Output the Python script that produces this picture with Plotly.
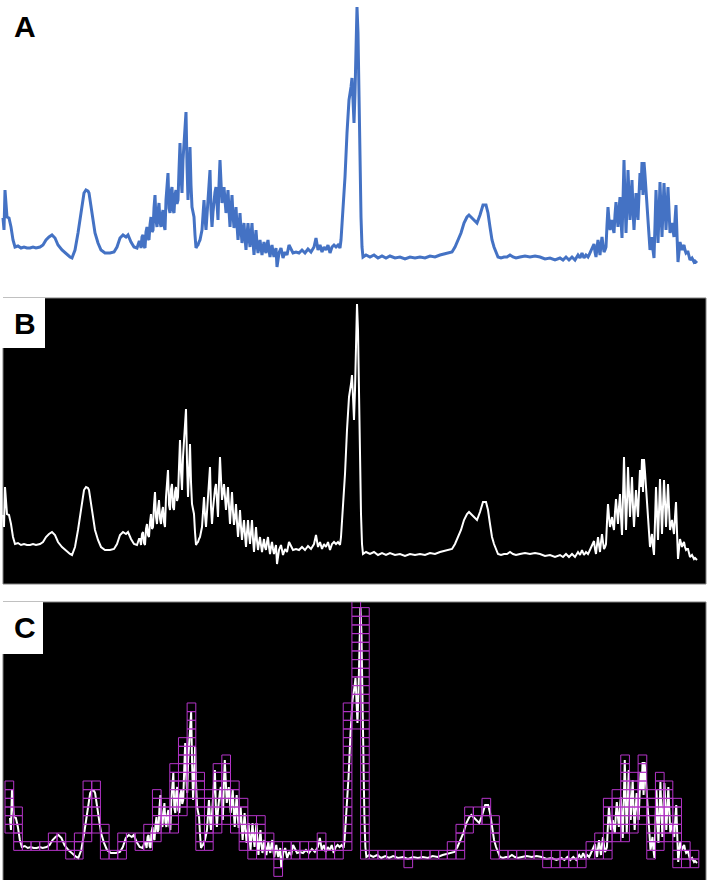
import numpy as np
import plotly.graph_objects as go

# ---------------- data (signal) ----------------
# sample positions and intensities, in four stretches
pos_start = [3, 4, 5, 6, 7, 9, 11, 13, 15, 18, 21, 24, 27, 30, 33, 36, 40, 43, 46, 49,
             52, 55, 58, 62, 66, 70, 72, 75, 78, 81, 84, 86, 88, 89, 91, 93, 95, 98, 101, 105,
             110, 114, 117, 120, 123, 126, 128, 131, 134, 137, 139]
val_start = [52, 40, 80, 70, 53, 52, 43, 30, 23, 24, 22, 23, 22, 22, 23, 22, 23, 25, 30, 33,
             35, 32, 25, 20, 16, 13, 12, 20, 37, 57, 77, 80, 79, 77, 63, 50, 37, 27, 20, 17,
             17, 18, 23, 32, 35, 33, 35, 28, 23, 22, 28]

pos_noisy1 = list(range(140, 280))
val_noisy1 = [28, 22, 33, 35, 24, 22, 38, 43, 32, 30,
              45, 53, 38, 40, 62, 75, 50, 43, 58, 67,
              48, 43, 55, 60, 45, 40, 70, 90, 97, 62,
              57, 78, 83, 60, 57, 75, 80, 66, 70, 100,
              127, 95, 77, 110, 123, 140, 158, 105, 70, 95,
              123, 85, 63, 58, 53, 35, 22, 24, 25, 28,
              30, 35, 40, 55, 70, 52, 40, 55, 70, 85,
              100, 60, 43, 58, 70, 78, 83, 60, 50, 85,
              110, 88, 67, 75, 83, 70, 57, 68, 80, 60,
              43, 60, 75, 55, 42, 50, 63, 45, 30, 42,
              57, 40, 27, 38, 47, 32, 20, 35, 47, 33,
              23, 35, 47, 28, 15, 28, 40, 26, 17, 24,
              30, 22, 15, 22, 28, 20, 17, 25, 30, 20,
              13, 20, 25, 18, 13, 18, 22, 3, 12, 17]

pos_middle = [281, 283, 285, 287, 289, 291, 293, 296, 299, 302,
              305, 308, 311, 314, 316, 318, 320, 322, 324, 326,
              328, 330, 332, 334, 336, 338, 340, 341, 343, 345,
              347, 349, 351, 352, 353, 354, 355, 356, 357, 358,
              359, 360, 361, 362, 363, 366, 370, 374, 378, 382,
              386, 390, 395, 400, 405, 410, 415, 420, 425, 430,
              435, 440, 445, 448, 452, 455, 458, 461, 464, 467,
              469, 471, 474, 477, 480, 483, 486, 488, 490, 492,
              494, 496, 498, 501, 504, 507, 510, 513, 516, 520,
              525, 530, 535, 540, 545, 550, 555, 560, 563, 566,
              569, 572, 575, 578, 580, 582, 584, 586]
val_middle = [22, 12, 18, 15, 25, 20, 17, 18, 17, 20,
              17, 21, 18, 23, 32, 20, 25, 18, 23, 20,
              25, 17, 23, 25, 23, 25, 22, 30, 57, 93,
              137, 170, 183, 192, 170, 147, 177, 237, 263, 237,
              170, 103, 53, 23, 13, 15, 13, 15, 12, 14,
              12, 14, 12, 13, 11, 13, 12, 13, 12, 14,
              13, 15, 16, 17, 18, 23, 30, 37, 47, 53,
              55, 53, 50, 47, 55, 65, 65, 57, 43, 30,
              23, 17, 13, 12, 13, 13, 15, 13, 12, 13,
              14, 13, 14, 13, 11, 12, 10, 12, 10, 13,
              10, 13, 10, 15, 12, 17, 12, 15]

pos_noisy2 = list(range(588, 698))
val_noisy2 = [13, 15, 17, 20, 22, 24, 26, 18, 13, 22,
              30, 22, 15, 25, 33, 25, 18, 20, 23, 45,
              63, 50, 40, 45, 50, 42, 37, 55, 68, 55,
              43, 60, 73, 50, 32, 70, 110, 70, 37, 65,
              100, 75, 50, 70, 90, 60, 40, 60, 77, 62,
              50, 75, 97, 80, 108, 75, 108, 95, 77, 62,
              50, 35, 20, 28, 33, 20, 12, 45, 80, 55,
              27, 55, 88, 60, 33, 60, 87, 65, 40, 60,
              83, 60, 37, 42, 47, 40, 33, 50, 65, 35,
              8, 18, 28, 24, 20, 23, 25, 20, 17, 18,
              18, 14, 10, 11, 12, 10, 8, 9, 8, 7]

position = pos_start + pos_noisy1 + pos_middle + pos_noisy2
intensity = val_start + val_noisy1 + val_middle + val_noisy2

panel_labels = ["A", "B", "C"]

# ---------------- geometry helpers ----------------
W, H = 708, 880


def px(x):
    return x / W


def py(y):
    return 1 - y / H


fig = go.Figure()

# Panel A: blue line on white
fig.add_trace(go.Scatter(x=position, y=intensity, mode="lines",
                         line=dict(color="#4472C4", width=3),
                         xaxis="x", yaxis="y", hoverinfo="skip", showlegend=False))
# Panel B: white line on black
fig.add_trace(go.Scatter(x=position, y=intensity, mode="lines",
                         line=dict(color="white", width=2),
                         xaxis="x2", yaxis="y2", hoverinfo="skip", showlegend=False))
# Panel C: white line on black + box grid
fig.add_trace(go.Scatter(x=position, y=intensity, mode="lines",
                         line=dict(color="white", width=2),
                         xaxis="x3", yaxis="y3", hoverinfo="skip", showlegend=False))

# box-counting cover of the curve in panel C
bw, bh = 8.76, 8.67
gx0, gy0 = -2.0, 2.3
tol = 1.0
xs = np.array(position, float)
ys = np.array(intensity, float)
bx, by = [], []
ncol = int(np.ceil((xs.max() - gx0) / bw)) + 1
for i in range(ncol):
    a = gx0 + i * bw
    b = a + bw
    if b < xs.min() or a > xs.max():
        continue
    lo_x, hi_x = max(a, xs.min()), min(b, xs.max())
    inside = ys[(xs >= lo_x) & (xs <= hi_x)]
    ends = np.interp([lo_x, hi_x], xs, ys)
    vals = np.concatenate([inside, ends])
    r0 = int(np.floor((vals.min() - tol - gy0) / bh))
    r1 = int(np.floor((vals.max() + tol - gy0) / bh))
    for r in range(r0, r1 + 1):
        yb = gy0 + r * bh
        yt = yb + bh
        bx += [a, b, b, a, a, None]
        by += [yb, yb, yt, yt, yb, None]

fig.add_trace(go.Scatter(x=bx, y=by, mode="lines",
                         line=dict(color="#B434C8", width=1),
                         xaxis="x3", yaxis="y3", hoverinfo="skip", showlegend=False))

# ---------------- panels ----------------
shapes = [
    dict(type="rect", xref="paper", yref="paper", x0=px(3), x1=px(706), y0=py(584), y1=py(298),
         fillcolor="black", line=dict(color="#808080", width=1), layer="below"),
    dict(type="rect", xref="paper", yref="paper", x0=px(3), x1=px(706), y0=py(881), y1=py(602),
         fillcolor="black", line=dict(color="#808080", width=1), layer="below"),
    dict(type="rect", xref="paper", yref="paper", x0=px(0), x1=px(45), y0=py(348), y1=py(298),
         fillcolor="white", line=dict(width=0), layer="below"),
    dict(type="rect", xref="paper", yref="paper", x0=px(0), x1=px(43), y0=py(654), y1=py(602),
         fillcolor="white", line=dict(width=0), layer="below"),
]

label_pos = [(13, 9), (13, 306), (13, 610)]
annotations = []
for lab, (lx, ly) in zip(panel_labels, label_pos):
    annotations.append(dict(text="<b>%s</b>" % lab, x=px(lx), y=py(ly), xref="paper", yref="paper",
                            xanchor="left", yanchor="top", showarrow=False, borderpad=0,
                            font=dict(family="Liberation Sans, Arial, sans-serif", size=30, color="black")))

ax_common = dict(visible=False, showgrid=False, zeroline=False, fixedrange=True)

fig.update_layout(
    width=W, height=H,
    margin=dict(l=0, r=0, t=0, b=0),
    paper_bgcolor="white",
    plot_bgcolor="rgba(0,0,0,0)",
    showlegend=False,
    shapes=shapes,
    annotations=annotations,
    xaxis=dict(domain=[0, 1], range=[0, 708], anchor="y", **ax_common),
    yaxis=dict(domain=[py(280), 1], range=[-10, 270], anchor="x", **ax_common),
    xaxis2=dict(domain=[0, 1], range=[0, 708], anchor="y2", **ax_common),
    yaxis2=dict(domain=[py(584), py(298)], range=[-17, 269], anchor="x2", **ax_common),
    xaxis3=dict(domain=[0, 1], range=[-7.07, 708.08], anchor="y3", **ax_common),
    yaxis3=dict(domain=[0, py(602)], range=[-10, 268], anchor="x3", **ax_common),
)

fig.write_html("out.html", config={"displayModeBar": False},
               post_script="document.body.style.margin='0';document.body.style.overflow='hidden';")
